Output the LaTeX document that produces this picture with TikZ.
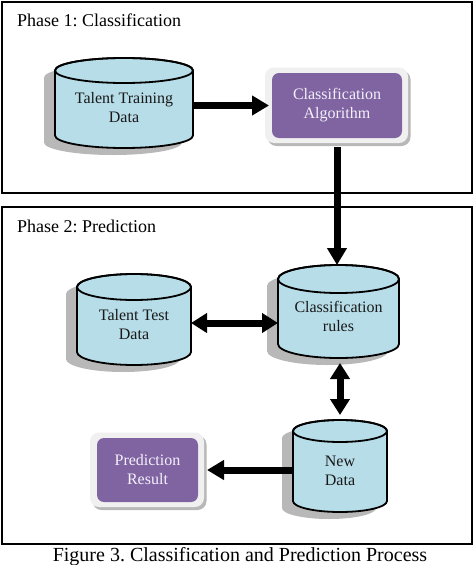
\documentclass[tikz,border=0pt]{standalone}
\usepackage{fontspec}
\setmainfont{Liberation Serif}
\usetikzlibrary{arrows.meta}
\definecolor{cylfill}{HTML}{B7DDE8}
\definecolor{purp}{HTML}{8064A2}
\definecolor{halocol}{HTML}{F0F0F0}
\definecolor{shad}{HTML}{B8B8B8}
\definecolor{purptext}{HTML}{F4F0FA}
\tikzset{
  frame/.style={draw=black, line width=2.5pt},
  phasetitle/.style={anchor=west, font=\fontsize{18}{21}\selectfont, inner sep=0pt},
  cyltext/.style={align=center, font=\fontsize{16}{19}\selectfont, text=black!90, inner sep=0pt},
  cylbody/.style={fill=cylfill, draw=black, line width=1.8pt},
  cylshadow/.style={fill=shad},
  anchorbox/.style={rectangle, inner sep=0pt, outer sep=0pt},
  purpbox/.style={rectangle, rounded corners=7pt, fill=purp, align=center, text=purptext,
    font=\fontsize{16}{19}\selectfont, inner sep=0pt, outer sep=0pt},
  bigarrow/.style={line width=7pt, -{Triangle[width=19pt,length=17pt]}},
  bigdouble/.style={line width=7pt, {Triangle[width=19pt,length=16pt]}-{Triangle[width=19pt,length=16pt]}},
}
% #1 name, #2 cx, #3 top y, #4 bottom y, #5 rx, #6 ry, #7 text, #8 text y
\newcommand\dbcyl[8]{%
  \begin{scope}[shift={(-11,-7)}]
    \fill[cylshadow] ({#2-#5},{-(#3+#6)}) -- ({#2-#5},{-(#4-#6)})
      arc[start angle=180,end angle=360,x radius=#5,y radius=#6]
      -- ({#2+#5},{-(#3+#6)})
      arc[start angle=0,end angle=180,x radius=#5,y radius=#6] -- cycle;
  \end{scope}
  \filldraw[cylbody] ({#2-#5},{-(#3+#6)}) -- ({#2-#5},{-(#4-#6)})
      arc[start angle=180,end angle=360,x radius=#5,y radius=#6]
      -- ({#2+#5},{-(#3+#6)})
      arc[start angle=0,end angle=180,x radius=#5,y radius=#6] -- cycle;
  \draw[line width=1.8pt] (#2,{-(#3+#6)}) ellipse [x radius=#5, y radius=#6];
  \node[anchorbox, minimum width={2*#5*1pt}, minimum height={(#4-#3)*1pt}] (#1) at (#2,{-(#3+#4)/2}) {};
  \node[cyltext] at (#2,-#8) {#7};
}
% #1 name, #2 x1, #3 y1, #4 x2, #5 y2, #6 text
\newcommand\pbox[6]{%
  \fill[shad, rounded corners=9pt] ({#2-7+2.5},{-(#3-5.5)-3}) rectangle ({#4+6+2.5},{-(#5+5)-3});
  \fill[halocol, rounded corners=9pt] ({#2-7},{-(#3-5.5)}) rectangle ({#4+6},{-(#5+5)});
  \node[purpbox, minimum width={(#4-#2)*1pt}, minimum height={(#5-#3)*1pt}] (#1) at ({(#2+#4)/2},{-(#3+#5)/2}) {#6};
}
\begin{document}
\frenchspacing
\begin{tikzpicture}[x=1pt,y=1pt]
\useasboundingbox (0,0) rectangle (474,-565);
\fill[white] (0,0) rectangle (474,-565);
% frames
\draw[frame] (2,-2) rectangle (472,-193);
\draw[frame] (2,-207) rectangle (472,-544);
\node[phasetitle] (t1) at (17,-20) {Phase 1: Classification};
\node[phasetitle] (t2) at (17,-226) {Phase 2: Prediction};
% cylinders
\dbcyl{tr}{124}{58}{148}{69}{12.5}{Talent Training\\Data}{108}
\dbcyl{test}{134}{274}{365}{57}{13}{Talent Test\\Data}{325}
\dbcyl{rules}{338.5}{265}{358}{60.5}{14}{Classification\\rules}{316}
\dbcyl{new}{340}{420}{512}{47}{11}{New\\Data}{471}
% purple boxes
\pbox{alg}{272}{73}{402}{138}{Classification\\Algorithm}
\pbox{pred}{97}{438}{198}{502}{Prediction\\Result}
% connectors
\draw[bigarrow] (tr.east |- alg.west) -- ([xshift=-3pt]alg.west);
\draw[bigarrow] ([yshift=-9pt]alg.south) -- (alg.south |- rules.north);
\draw[bigdouble] ([yshift=-3.5pt]test.east) -- ([yshift=-3.5pt]test.east -| rules.west);
\draw[bigdouble] ([yshift=-5pt]rules.south -| new.north) -- ([yshift=5pt]new.north);
\draw[bigarrow] (new.west |- pred.east) -- ([xshift=9pt]pred.east);
% caption
\node[font=\fontsize{20}{24}\selectfont, inner sep=0pt] (cap) at (240,-557) {Figure 3. Classification and Prediction Process};
\end{tikzpicture}
\end{document}
